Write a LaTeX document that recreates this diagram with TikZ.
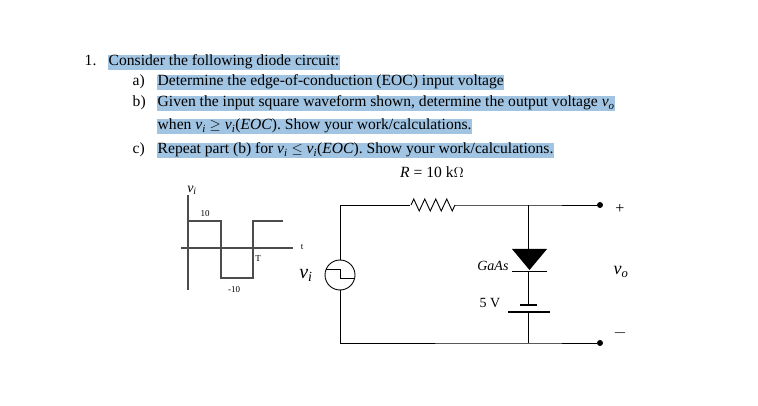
\documentclass[tikz,border=0pt]{standalone}
\usepackage{fontspec}
\setmainfont{Liberation Serif}
\usetikzlibrary{decorations.pathmorphing}
\definecolor{hl}{RGB}{160,196,226}
\newcommand{\vv}[1]{\textit{v}\textsubscript{\textit{#1}}}
\begin{document}
\begin{tikzpicture}[x=1pt,y=-1pt,
  txt/.style={anchor=base west,inner sep=0.5pt,font=\fontsize{15.6}{18}\selectfont},
  hlt/.style={txt,fill=hl},
  wire/.style={line width=0.9pt},
  ax/.style={line width=1.2pt,black!70},
  dot/.style={circle,fill=black,inner sep=0pt,minimum size=6pt}]
\useasboundingbox (0,0) rectangle (758,406);
% text
\node[txt] (n1) at (84,66) {1.};
\node[hlt] (t1) at (108,66) {Consider the following diode circuit:};
\node[txt] (ta) at (132,86) {a)};
\node[hlt] (t2) at (157,86) {Determine the edge-of-conduction (EOC) input voltage};
\node[txt] (tb) at (132,107) {b)};
\node[hlt] (t3) at (157,107) {Given the input square waveform shown, determine the output voltage \vv{o}};
\node[hlt] (t4) at (157,130) {when \vv{i} $\geq$ \vv{i}(\textit{EOC}). Show your work/calculations.};
\node[txt] (tc) at (132,154) {c)};
\node[hlt] (t5) at (157,154) {Repeat part (b) for \vv{i} $\leq$ \vv{i}(\textit{EOC}). Show your work/calculations.};
\node[txt,anchor=base] (R) at (432,178) {\textit{R} = 10 k$\Omega$};
% waveform
\draw[ax] (188,195) -- (188,290);
\draw[ax] (181,248) -- (293,248);
\draw[ax] (188,221) -- (221,221) -- (221,278) -- (253,278) -- (253,221) -- (283,221);
\node[font=\fontsize{14}{16}\selectfont] (vw) at (192,190) {\vv{i}};
\node[font=\fontsize{9}{10}\selectfont] (t) at (302,247) {t};
\node[font=\fontsize{9}{10}\selectfont] (l10) at (205,214) {10};
\node[font=\fontsize{9}{10}\selectfont] (lm10) at (234,290) {-10};
\node[font=\fontsize{9}{10}\selectfont] (T) at (258,259) {T};
% circuit
\coordinate (tl) at (340,205);
\coordinate (bl) at (340,343);
\coordinate (j) at (528,205);
\coordinate (jb) at (528,343);
\node[dot] (d1) at (600,205) {};
\node[dot] (d2) at (600,343) {};
\node[circle,draw,line width=0.9pt,minimum size=30pt,inner sep=0pt] (src) at (340,275) {};
\draw[wire] (326.3,269) -- (340,269) -- (340,278) -- (354.7,278);
\draw[wire] (src.north) -- (tl) -- (410,205);
\draw[wire,decorate,decoration={zigzag,segment length=11pt,amplitude=6pt}] (411,205) -- (455,205);
\draw[wire] (455,205) -- (j) -- (d1);
\draw[wire] (src.south) -- (bl) -- (jb) -- (d2);
\fill (512,249) -- (547,249) -- (529.5,270) -- cycle;
\draw[wire] (512,271) -- (547,271);
\draw[wire] (j) -- (528,249);
\draw[wire] (528,271) -- (528,305);
\draw[line width=1.4pt] (520,305) -- (537,305);
\draw[line width=1.4pt] (508,312) -- (550,312);
\draw[wire] (528,312) -- (jb);
\node[font=\fontsize{14}{16}\selectfont\itshape,anchor=base east] (ga) at (512,270) {GaAs};
\node[font=\fontsize{14}{16}\selectfont,anchor=base] (fv) at (490,307) {5 V};
\node[font=\fontsize{20}{24}\selectfont] (vs) at (306,275) {\vv{i}};
\node[font=\fontsize{16}{18}\selectfont] (pl) at (620,209) {+};
\node[font=\fontsize{18}{20}\selectfont] (vo) at (621,272) {\vv{o}};
\node[font=\fontsize{16}{18}\selectfont] (mi) at (620,333) {$-$};
\end{tikzpicture}
\end{document}
